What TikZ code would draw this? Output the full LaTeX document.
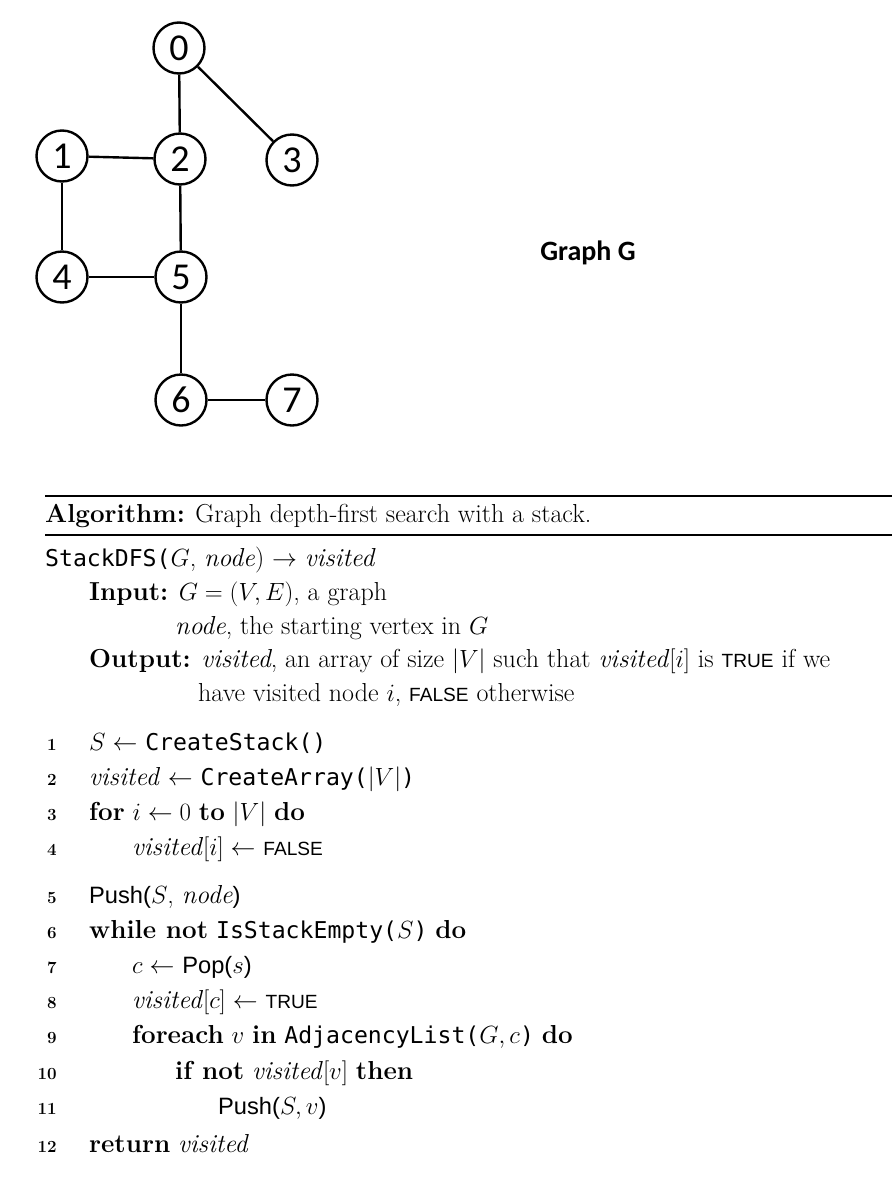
\documentclass[tikz,border=0pt]{standalone}
\usepackage{fontspec}
\newfontfamily\carlito{Carlito}
\newfontfamily\monof{DejaVu Sans Mono}[Scale=0.89]
\newfontfamily\sansf{Liberation Sans}[Scale=0.91]
\newcommand{\kw}[1]{\textbf{#1}}
\newcommand{\smcap}[1]{{\sansf\fontsize{21}{21}\selectfont #1}}
\begin{document}
\begin{tikzpicture}[x=1pt,y=-1pt,
  vtx/.style={circle,draw,line width=2.4pt,minimum size=51pt,inner sep=0pt,font=\carlito\fontsize{38}{38}\selectfont},
  edge/.style={line width=2.4pt},
  rulel/.style={line width=1.6pt},
  txt/.style={inner sep=0pt,anchor=base west,font=\fontsize{26}{30}\selectfont},
  num/.style={inner sep=0pt,anchor=base east,font=\bfseries\fontsize{17}{17}\selectfont}]
\useasboundingbox (0,0) rectangle (892,1192);
% graph
\node[vtx] (n0) at (179,48) {0};
\node[vtx] (n1) at (62,156) {1};
\node[vtx] (n2) at (180,159) {2};
\node[vtx] (n3) at (292,160) {3};
\node[vtx] (n4) at (62,277) {4};
\node[vtx] (n5) at (181,277) {5};
\node[vtx] (n6) at (181,400) {6};
\node[vtx] (n7) at (292,400) {7};
\draw[edge] (n0) -- (n2);
\draw[edge] (n0) -- (n3);
\draw[edge] (n1) -- (n2);
\draw[edge] (n1) -- (n4);
\draw[edge] (n2) -- (n5);
\draw[edge] (n4) -- (n5);
\draw[edge] (n5) -- (n6);
\draw[edge] (n6) -- (n7);
\node[inner sep=0pt,font=\carlito\bfseries\fontsize{28}{28}\selectfont] (gg) at (588,253) {Graph G};
% algorithm header
\coordinate (r1a) at (45,496); \coordinate (r1b) at (892,496);
\coordinate (r2a) at (45,535); \coordinate (r2b) at (892,535);
\draw[rulel] (r1a) -- (r1b);
\draw[rulel] (r2a) -- (r2b);
\node[txt] (hd) at (45,522) {\kw{Algorithm:} Graph depth-first search with a stack.};
\node[txt] (sig) at (45,566) {{\monof StackDFS(}$G$, \textit{node}) $\rightarrow$ \textit{visited}};
\node[txt] (inp) at (89,600) {\kw{Input:} $G=(V,E)$, a graph};
\node[txt] (inp2) at (175,634) {\textit{node}, the starting vertex in $G$};
\node[txt] (outp) at (89,667) {\kw{Output:} \textit{visited}, an array of size $|V|$ such that \textit{visited}$[i]$ is \smcap{TRUE} if we};
\node[txt] (outp2) at (198,701) {have visited node $i$, \smcap{FALSE} otherwise};
% numbered lines
\node[num] (k1) at (57,750) {1};
\node[txt] (l1) at (89,750) {$S\leftarrow$ {\monof CreateStack()}};
\node[num] (k2) at (57,785) {2};
\node[txt] (l2) at (89,785) {\textit{visited} $\leftarrow$ {\monof CreateArray(}$|V|${\monof )}};
\node[num] (k3) at (57,820) {3};
\node[txt] (l3) at (89,820) {\kw{for} $i\leftarrow 0$ \kw{to} $|V|$ \kw{do}};
\node[num] (k4) at (57,855) {4};
\node[txt] (l4) at (132,855) {\textit{visited}$[i]\leftarrow$ \smcap{FALSE}};
\node[num] (k5) at (57,903) {5};
\node[txt] (l5) at (89,903) {{\sansf Push(}$S$, \textit{node}{\sansf )}};
\node[num] (k6) at (57,938) {6};
\node[txt] (l6) at (89,938) {\kw{while not} {\monof IsStackEmpty(}$S${\monof )} \kw{do}};
\node[num] (k7) at (57,973) {7};
\node[txt] (l7) at (132,973) {$c\leftarrow$ {\sansf Pop(}$s${\sansf )}};
\node[num] (k8) at (57,1008) {8};
\node[txt] (l8) at (132,1008) {\textit{visited}$[c]\leftarrow$ \smcap{TRUE}};
\node[num] (k9) at (57,1043) {9};
\node[txt] (l9) at (132,1043) {\kw{foreach} $v$ \kw{in} {\monof AdjacencyList(}$G,c${\monof )} \kw{do}};
\node[num] (k10) at (57,1079) {10};
\node[txt] (l10) at (175,1079) {\kw{if not} \textit{visited}$[v]$ \kw{then}};
\node[num] (k11) at (57,1114) {11};
\node[txt] (l11) at (218,1114) {{\sansf Push(}$S,v${\sansf )}};
\node[num] (k12) at (57,1152) {12};
\node[txt] (l12) at (89,1152) {\kw{return} \textit{visited}};
\end{tikzpicture}
\end{document}
